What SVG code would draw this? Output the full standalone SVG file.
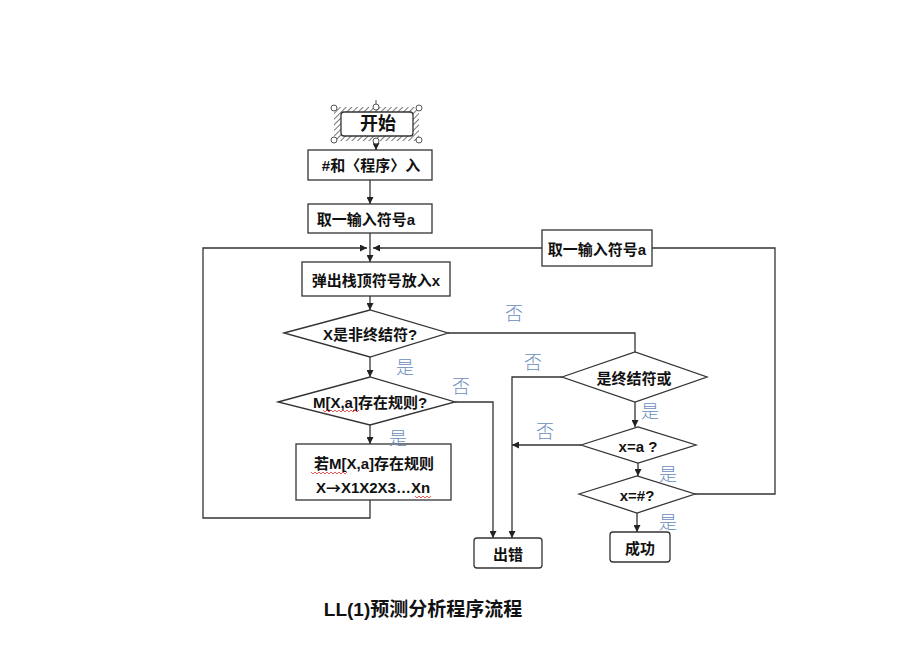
<svg xmlns="http://www.w3.org/2000/svg" width="919" height="657" viewBox="0 0 919 657">
<style>
.box{fill:#fff;stroke:#333;stroke-width:1.3}
.ln{fill:none;stroke:#333;stroke-width:1.3}
.t{font-family:"Liberation Sans","Noto Sans CJK SC",sans-serif;font-weight:bold;font-size:15px;fill:#111;text-anchor:middle;dominant-baseline:central}
.yn{font-family:"Noto Sans CJK SC",sans-serif;font-weight:300;font-size:18px;fill:#6a8dbd;text-anchor:middle;dominant-baseline:central}
.sq{fill:none;stroke:#e03030;stroke-width:0.8}
</style>
<defs>
<marker id="ah" viewBox="0 0 10 10" refX="10" refY="5" markerWidth="7" markerHeight="7" orient="auto" markerUnits="userSpaceOnUse">
<path d="M0,0 L10,5 L0,10 z" fill="#222"/>
</marker>
<pattern id="hatch" width="4" height="4" patternUnits="userSpaceOnUse" patternTransform="rotate(45)">
<rect width="4" height="4" fill="#fff"/>
<line x1="0" y1="0" x2="0" y2="4" stroke="#555" stroke-width="1.6"/>
</pattern>
</defs>
<rect width="919" height="657" fill="#fff"/>

<g id="connectors">
<line class="ln" x1="376" y1="141" x2="376" y2="150" marker-end="url(#ah)"/>
<line class="ln" x1="370" y1="180" x2="370" y2="204" marker-end="url(#ah)"/>
<line class="ln" x1="370" y1="233" x2="370" y2="262" marker-end="url(#ah)"/>
<polyline class="ln" points="370,500 370,518 203,518 203,248 367,248" marker-end="url(#ah)"/>
<line class="ln" x1="542" y1="248" x2="373" y2="248" marker-end="url(#ah)"/>
<line class="ln" x1="370" y1="296" x2="370" y2="310" marker-end="url(#ah)"/>
<polyline class="ln" points="448,333 635,333 635,352"/>
<line class="ln" x1="370" y1="357" x2="370" y2="377" marker-end="url(#ah)"/>
<polyline class="ln" points="455,402 493,402 493,538" marker-end="url(#ah)"/>
<line class="ln" x1="370" y1="425" x2="370" y2="444" marker-end="url(#ah)"/>
<polyline class="ln" points="562,377 512,377 512,538" marker-end="url(#ah)"/>
<line class="ln" x1="635" y1="402" x2="635" y2="427" marker-end="url(#ah)"/>
<line class="ln" x1="581" y1="445" x2="512" y2="445" marker-end="url(#ah)"/>
<line class="ln" x1="638" y1="463" x2="638" y2="476" marker-end="url(#ah)"/>
<polyline class="ln" points="695,494 775,494 775,248 652,248"/>
<line class="ln" x1="637" y1="513" x2="637" y2="532" marker-end="url(#ah)"/>
</g>

<g id="start">
<rect x="334" y="107" width="85" height="34" fill="url(#hatch)"/>
<rect x="341" y="112" width="72" height="24" rx="3" class="box"/>
<line x1="376" y1="100" x2="376" y2="107" stroke="#555" stroke-width="1"/>
<g fill="#fff" stroke="#555" stroke-width="1">
<circle cx="334" cy="108" r="3"/><circle cx="376" cy="107" r="3"/><circle cx="419" cy="108" r="3"/>
<circle cx="334" cy="140" r="3"/><circle cx="376" cy="141" r="3"/><circle cx="419" cy="140" r="3"/>
</g>
<text class="t" x="378" y="124" style="font-size:18px">开始</text>
</g>

<g id="push">
<rect x="308" y="150" width="124" height="30" class="box"/>
<text class="t" x="371" y="165">#和〈程序〉入</text>
</g>

<g id="read1">
<rect x="308" y="204" width="124" height="29" class="box"/>
<text class="t" x="366" y="219">取一输入符号a</text>
</g>

<g id="pop">
<rect x="302" y="262" width="148" height="34" class="box"/>
<text class="t" x="376" y="280">弹出栈顶符号放入x</text>
</g>

<g id="isNonterm">
<polygon points="284,333 370,310 448,333 370,357" class="box"/>
<text class="t" x="370" y="334">X是非终结符?</text>
</g>

<g id="ruleExists">
<polygon points="278,402 370,377 455,402 370,425" class="box"/>
<text class="t" x="370" y="402">M[X,a]存在规则?</text>
<path class="sq" d="M323,410 l2,2 l2,-2 l2,2 l2,-2 l2,2 l2,-2 l2,2 l2,-2 l2,2 l2,-2 l2,2 l2,-2 l2,2 l2,-2 l2,2 l2,-2 l2,2 l2,-2"/>
</g>

<g id="apply">
<rect x="296" y="444" width="155" height="56" class="box"/>
<text class="t" x="374" y="463">若M[X,a]存在规则</text>
<text class="t" x="373" y="487">X<tspan style="font-family:'Noto Sans CJK SC',sans-serif">→</tspan>X1X2X3…Xn</text>
<path class="sq" d="M311,472 l2,2 l2,-2 l2,2 l2,-2 l2,2 l2,-2 l2,2 l2,-2 l2,2 l2,-2 l2,2 l2,-2 l2,2 l2,-2 l2,2 l2,-2 l2,2 l2,-2"/>
<path class="sq" d="M415,496 l2,2 l2,-2 l2,2 l2,-2 l2,2 l2,-2 l2,2 l2,-2"/>
</g>

<g id="read2">
<rect x="542" y="230" width="110" height="36" class="box"/>
<text class="t" x="597" y="249">取一输入符号a</text>
</g>

<g id="isTerm">
<polygon points="562,377 635,352 707,377 635,402" class="box"/>
<text class="t" x="634" y="378">是终结符或</text>
</g>

<g id="eqA">
<polygon points="581,445 638,427 696,445 638,463" class="box"/>
<text class="t" x="638" y="446">x=a ?</text>
</g>

<g id="eqHash">
<polygon points="579,494 637,476 695,494 637,513" class="box"/>
<text class="t" x="637" y="495">x=#?</text>
</g>

<g id="success">
<rect x="610" y="532" width="60" height="30" rx="3" class="box"/>
<text class="t" x="640" y="548">成功</text>
</g>

<g id="error">
<rect x="474" y="538" width="68" height="30" rx="3" class="box"/>
<text class="t" x="508" y="554">出错</text>
</g>

<g id="labels">
<text class="yn" x="514" y="312">否</text>
<text class="yn" x="405" y="366">是</text>
<text class="yn" x="461" y="385">否</text>
<text class="yn" x="398" y="437">是</text>
<text class="yn" x="533" y="361">否</text>
<text class="yn" x="545" y="430">否</text>
<text class="yn" x="650" y="410">是</text>
<text class="yn" x="668" y="473">是</text>
<text class="yn" x="668" y="521">是</text>
</g>

<text class="t" x="423" y="609" style="font-size:19px">LL(1)预测分析程序流程</text>
</svg>
